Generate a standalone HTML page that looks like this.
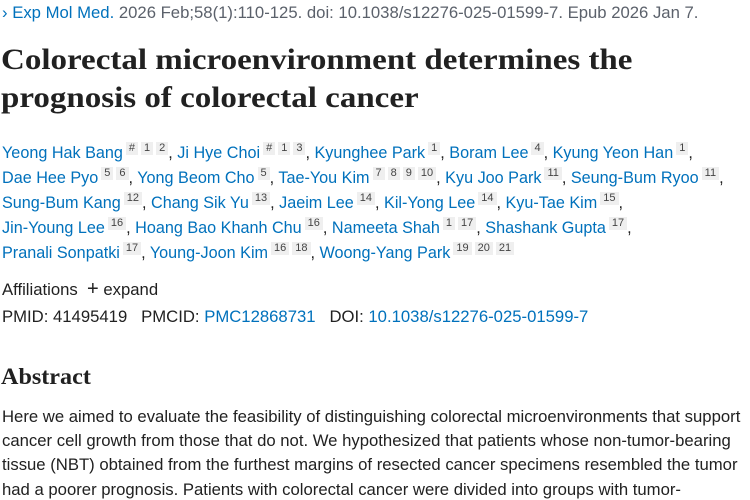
<!DOCTYPE html>
<html><head><meta charset="utf-8"><style>
body{margin:0;width:750px;height:500px;overflow:hidden;background:#fff;font-family:"Liberation Sans",sans-serif;color:#212121}
.l{position:absolute;left:2px;white-space:nowrap;font-size:16.7px;line-height:20px}
.au{font-size:16.2px}
a{color:#0071bc;text-decoration:none}
s{text-decoration:none;display:inline-block;background:#efefef;color:#444;font-size:11px;line-height:13px;padding:0 3px;margin-left:3px;vertical-align:7px}
h1{position:absolute;left:1px;top:41px;margin:0;font-family:"Liberation Serif",serif;font-weight:bold;font-size:30px;line-height:38px;color:#212121;white-space:nowrap;transform:scaleX(1.1);transform-origin:0 0}
h2{position:absolute;left:1px;top:364px;margin:0;font-family:"Liberation Serif",serif;font-weight:bold;font-size:23px;line-height:26px;transform:scaleX(1.05);transform-origin:0 0}
.g{color:#5b616b}
</style></head><body>
<div class="l" style="top:3px"><a>&#8250; Exp Mol Med.</a> <span class="g">2026 Feb;58(1):110-125. doi: 10.1038/s12276-025-01599-7. Epub 2026 Jan 7.</span></div>
<h1>Colorectal microenvironment determines the<br>prognosis of colorectal cancer</h1>
<div class="l au" style="top:142px"><a>Yeong Hak Bang</a><s>#</s><s>1</s><s>2</s>, <a>Ji Hye Choi</a><s>#</s><s>1</s><s>3</s>, <a>Kyunghee Park</a><s>1</s>, <a>Boram Lee</a><s>4</s>, <a>Kyung Yeon Han</a><s>1</s>,</div>
<div class="l au" style="top:167px"><a>Dae Hee Pyo</a><s>5</s><s>6</s>, <a>Yong Beom Cho</a><s>5</s>, <a>Tae-You Kim</a><s>7</s><s>8</s><s>9</s><s>10</s>, <a>Kyu Joo Park</a><s>11</s>, <a>Seung-Bum Ryoo</a><s>11</s>,</div>
<div class="l au" style="top:192px"><a>Sung-Bum Kang</a><s>12</s>, <a>Chang Sik Yu</a><s>13</s>, <a>Jaeim Lee</a><s>14</s>, <a>Kil-Yong Lee</a><s>14</s>, <a>Kyu-Tae Kim</a><s>15</s>,</div>
<div class="l au" style="top:217px"><a>Jin-Young Lee</a><s>16</s>, <a>Hoang Bao Khanh Chu</a><s>16</s>, <a>Nameeta Shah</a><s>1</s><s>17</s>, <a>Shashank Gupta</a><s>17</s>,</div>
<div class="l au" style="top:242px"><a>Pranali Sonpatki</a><s>17</s>, <a>Young-Joon Kim</a><s>16</s><s>18</s>, <a>Woong-Yang Park</a><s>19</s><s>20</s><s>21</s></div>
<div class="l" style="top:279px">Affiliations &nbsp;<span style="font-size:20px">+</span> expand</div>
<div class="l" style="top:307px">PMID: 41495419 &nbsp;&nbsp;PMCID: <a>PMC12868731</a> &nbsp;&nbsp;DOI: <a>10.1038/s12276-025-01599-7</a></div>
<h2>Abstract</h2>
<div class="l" style="top:407px">Here we aimed to evaluate the feasibility of distinguishing colorectal microenvironments that support</div>
<div class="l" style="top:431px">cancer cell growth from those that do not. We hypothesized that patients whose non-tumor-bearing</div>
<div class="l" style="top:455px">tissue (NBT) obtained from the furthest margins of resected cancer specimens resembled the tumor</div>
<div class="l" style="top:480px">had a poorer prognosis. Patients with colorectal cancer were divided into groups with tumor-</div>
</body></html>
